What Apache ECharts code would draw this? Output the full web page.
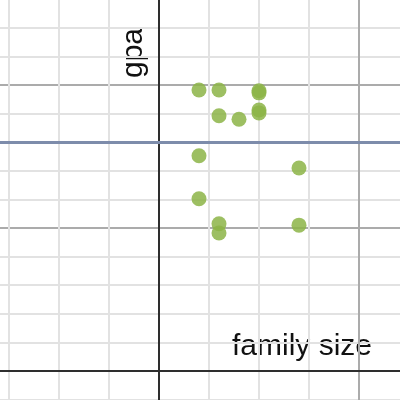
<!DOCTYPE html>
<html>
<head>
<meta charset="utf-8">
<script src="https://cdn.jsdelivr.net/npm/echarts@6/dist/echarts.min.js"></script>
<style>
  html, body { margin: 0; padding: 0; background: #fff; }
  #main { width: 400px; height: 400px; }
</style>
</head>
<body>
<div id="main"></div>
<script>
'use strict';

// points
const familySize = [2, 3, 5, 5, 3, 4, 5, 5, 2, 7, 2, 3, 3, 7];
const gpa = [3.93, 3.93, 3.92, 3.89, 3.57, 3.52, 3.65, 3.61, 3.01, 2.84, 2.41, 2.06, 1.93, 2.04];
const meanGpa = 3.2;

const xTitle = 'family size';
const yTitle = 'gpa';

const points = familySize.map((x, i) => [x, gpa[i]]);

const font = '30px "Liberation Sans", Arial, sans-serif';

echarts.init(document.getElementById('main')).setOption({
  animation: false,
  backgroundColor: '#fff',
  // the plot runs past the window so grid lines start from round numbers
  grid: { left: -41, right: -59, top: -58, bottom: -114, outerBoundsMode: 'none', containLabel: false },
  xAxis: {
    type: 'value',
    min: -10, max: 15, interval: 10,
    axisLine: { onZero: true, lineStyle: { color: '#2e2e2e', width: 2 } },
    axisTick: { show: false },
    axisLabel: { show: false },
    splitLine: { lineStyle: { color: '#ababab', width: 2 } },
    minorTick: { show: false, splitNumber: 4 },
    minorSplitLine: { show: true, lineStyle: { color: '#e2e2e2', width: 2 } }
  },
  yAxis: {
    type: 'value',
    min: -2, max: 6, interval: 2,
    axisLine: { onZero: true, lineStyle: { color: '#2e2e2e', width: 2 } },
    axisTick: { show: false },
    axisLabel: { show: false },
    splitLine: { lineStyle: { color: '#ababab', width: 2 } },
    minorTick: { show: false, splitNumber: 5 },
    minorSplitLine: { show: true, lineStyle: { color: '#e2e2e2', width: 2 } }
  },
  series: [{
    type: 'scatter',
    data: points,
    symbolSize: 15,
    itemStyle: { color: '#8cb446', opacity: 0.85 },
    z: 3,
    markLine: {
      silent: true,
      symbol: 'none',
      label: { show: false },
      lineStyle: { color: '#7d8cab', width: 3, type: 'solid' },
      data: [{ yAxis: meanGpa }]
    }
  }],
  graphic: [
    {
      type: 'text',
      x: 302, y: 347,
      style: { text: xTitle, font: font, fill: '#111', align: 'center', verticalAlign: 'middle' }
    },
    {
      type: 'text',
      x: 134, y: 53,
      rotation: Math.PI / 2,
      style: { text: yTitle, font: font, fill: '#111', align: 'center', verticalAlign: 'middle' }
    }
  ]
});
</script>
</body>
</html>
